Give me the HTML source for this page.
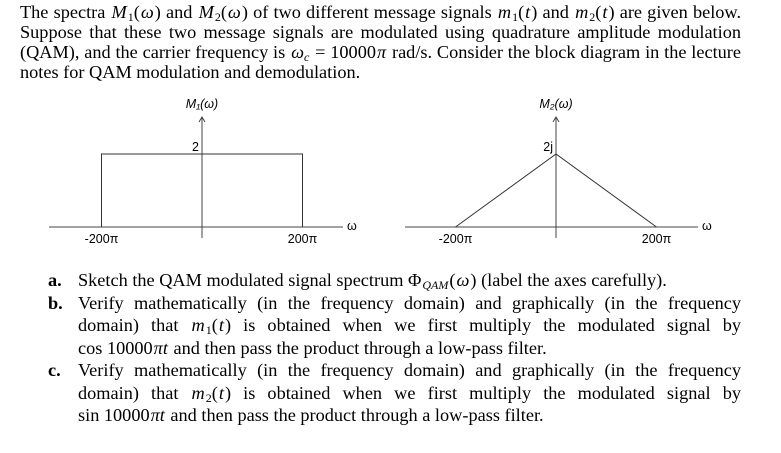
<!DOCTYPE html>
<html><head><meta charset="utf-8">
<style>
body{margin:0;width:781px;height:453px;background:#fff;position:relative;overflow:hidden;font-family:"Liberation Serif",serif;font-size:18.3px;color:#000}
.l{position:absolute;height:20px;line-height:20px;white-space:nowrap}
.j{text-align:justify;text-align-last:justify;white-space:normal}
i{font-style:italic;padding:0 1px}
sub{font-size:12px;vertical-align:-3px;line-height:0}
.m{position:absolute;left:48px;font-weight:bold}
svg{position:absolute;left:0;top:0}
svg text{font-family:"Liberation Sans",sans-serif;font-size:12.5px;fill:#000}
</style></head><body>
<div class="l j" style="left:20px;top:2px;width:721px">The spectra <i>M</i><sub>1</sub>(<i>ω</i>) and <i>M</i><sub>2</sub>(<i>ω</i>) of two different message signals <i>m</i><sub>1</sub>(<i>t</i>) and <i>m</i><sub>2</sub>(<i>t</i>) are given below.</div>
<div class="l j" style="left:20px;top:22px;width:721px">Suppose that these two message signals are modulated using quadrature amplitude modulation</div>
<div class="l j" style="left:20px;top:42px;width:721px">(QAM), and the carrier frequency is <i>ω<sub>c</sub></i> = 10000<i>π</i> rad/s. Consider the block diagram in the lecture</div>
<div class="l" style="left:20px;top:62px">notes for QAM modulation and demodulation.</div>

<svg width="781" height="453" id="fig"></svg>

<div class="m l" style="top:270px">a.</div>
<div class="l" style="left:78px;top:270px">Sketch the QAM modulated signal spectrum Φ<sub><i>QAM</i></sub>(<i>ω</i>) (label the axes carefully).</div>
<div class="m l" style="top:293px">b.</div>
<div class="l j" style="left:78px;top:293px;width:663px">Verify mathematically (in the frequency domain) and graphically (in the frequency</div>
<div class="l j" style="left:78px;top:315px;width:663px">domain) that <i>m</i><sub>1</sub>(<i>t</i>) is obtained when we first multiply the modulated signal by</div>
<div class="l" style="left:78px;top:338px">cos 10000<i>πt</i> and then pass the product through a low-pass filter.</div>
<div class="m l" style="top:360px">c.</div>
<div class="l j" style="left:78px;top:360px;width:663px">Verify mathematically (in the frequency domain) and graphically (in the frequency</div>
<div class="l j" style="left:78px;top:383px;width:663px">domain) that <i>m</i><sub>2</sub>(<i>t</i>) is obtained when we first multiply the modulated signal by</div>
<div class="l" style="left:78px;top:405px">sin 10000<i>πt</i> and then pass the product through a low-pass filter.</div>

<script>
const wVals = [-200, 0, 200];
const m1Vals = [2, 2, 2];
const m2Vals = [0, 2, 0];
const tickLabels = ["-200π", "200π"];
const peakLabels = ["2", "2j"];
const titles = ["M₁(ω)", "M₂(ω)"];
const NS = "http://www.w3.org/2000/svg";
const svg = document.getElementById('fig');
function mk(tag, attrs, txt){const e=document.createElementNS(NS,tag);for(const k in attrs)e.setAttribute(k,attrs[k]);if(txt)e.textContent=txt;svg.appendChild(e);return e;}
const panels=[{x0:202,axL:49,axR:343,vals:m1Vals,rect:true},{x0:556,axL:405,axR:698,vals:m2Vals,rect:false}];
const y0=227, sx=(201/400), sy=(73/2);
panels.forEach((p,i)=>{
  const X=w=>p.x0+w*sx, Y=v=>y0-v*sy;
  let e=mk('line',{x1:p.axL,y1:y0,x2:p.axR,y2:y0,stroke:'#444','stroke-width':1});
  
  
  e=mk('line',{x1:p.x0,y1:238,x2:p.x0,y2:117,stroke:'#444','stroke-width':1});
  
  
  e=mk('path',{d:`M${p.x0-3},${122} L${p.x0},${117} L${p.x0+3},${122}`,fill:'none',stroke:'#444'});
  
  
  let d;
  if(p.rect){d=`M${X(wVals[0])},${y0} L${X(wVals[0])},${Y(p.vals[0])} L${X(wVals[2])},${Y(p.vals[2])} L${X(wVals[2])},${y0}`;}
  else{d=`M${X(wVals[0])},${Y(p.vals[0])} L${X(wVals[1])},${Y(p.vals[1])} L${X(wVals[2])},${Y(p.vals[2])}`;}
  e=mk('path',{d:d,fill:'none',stroke:'#333','stroke-width':1});
  
  
  e=mk('text',{x:X(wVals[0]),y:y0+16,'text-anchor':'middle'},tickLabels[0]);
  
  
  e=mk('text',{x:X(wVals[2]),y:y0+16,'text-anchor':'middle'},tickLabels[1]);
  
  
  e=mk('text',{x:p.x0-3,y:Y(Math.max(...p.vals))-3,'text-anchor':'end'},peakLabels[i]);
  
  
  e=mk('text',{x:p.x0,y:108,'text-anchor':'middle','font-style':'italic','font-size':'13.5'},titles[i]);
  
  
  e=mk('text',{x:p.axR+4,y:y0+3,'font-size':'9'},"ω");
  
  
});
</script>
</body></html>
